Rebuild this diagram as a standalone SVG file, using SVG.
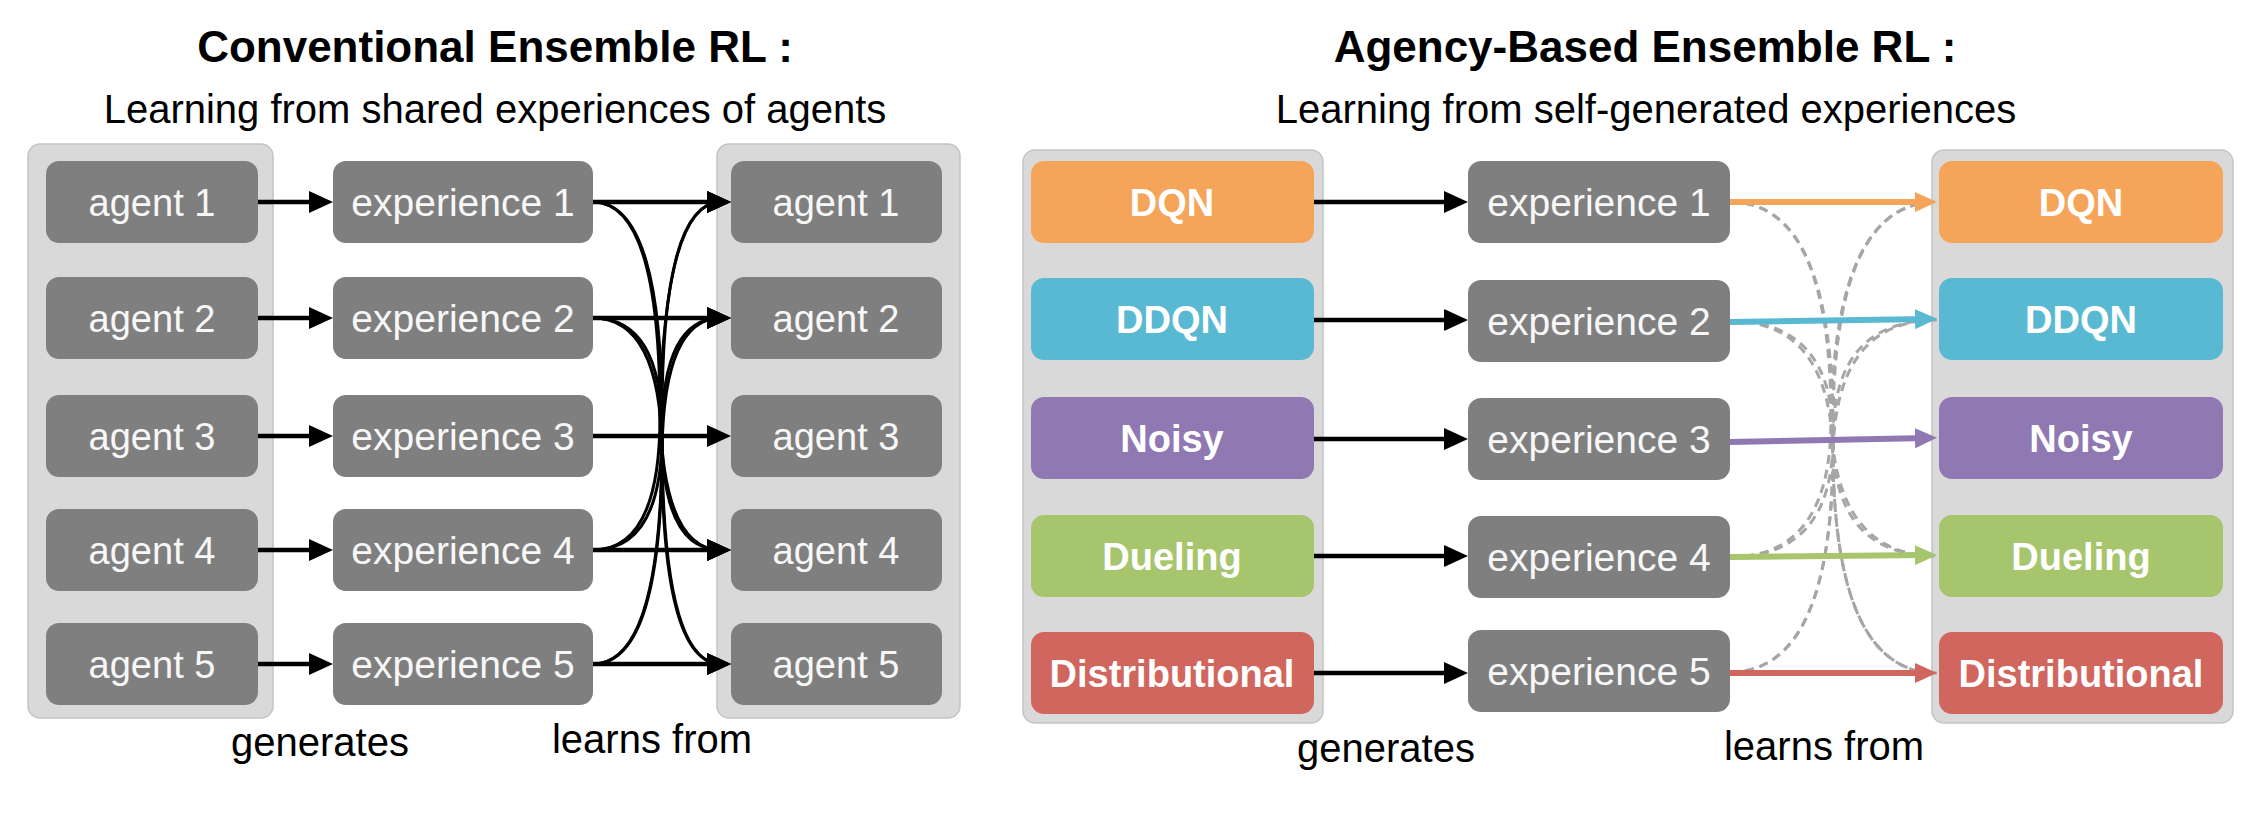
<svg xmlns="http://www.w3.org/2000/svg" width="2254" height="814" viewBox="0 0 2254 814">
<style>
  text{font-family:"Liberation Sans",Arial,sans-serif;text-anchor:middle}
  .title{font-size:44px;font-weight:bold;fill:#000}
  .sub{font-size:40px;fill:#000}
  .lbl{font-size:40px;fill:#000}
  .panel{fill:#D9D9D9;stroke:#C4C4C4;stroke-width:1.5}
  .gnode{fill:#7F7F7F}
  .ntxt{font-size:38px;fill:#F7F7F7}
  .etxt{font-size:39px;fill:#F7F7F7}
  .ctxt{font-size:38px;font-weight:bold;fill:#FFFFFF}
  .blk{stroke:#000;stroke-width:4.5;fill:none;marker-end:url(#ab)}
  .crv{stroke:#000;stroke-width:3;fill:none;marker-end:url(#ab)}
  .dsh{stroke:#A6A6A6;stroke-width:3;fill:none;stroke-dasharray:9 6}
  .col{stroke-width:6;fill:none}
</style>
<defs>
  <marker id="ab" markerUnits="userSpaceOnUse" viewBox="0 0 24 22" markerWidth="24" markerHeight="22" refX="14" refY="11" orient="auto"><path d="M0,0 L24,11 L0,22 z" fill="#000"/></marker>
  <marker id="aOr" markerUnits="userSpaceOnUse" viewBox="0 0 22 20" markerWidth="22" markerHeight="20" refX="12" refY="10" orient="auto"><path d="M0,0 L22,10 L0,20 z" fill="#F5A55A"/></marker>
  <marker id="aBl" markerUnits="userSpaceOnUse" viewBox="0 0 22 20" markerWidth="22" markerHeight="20" refX="12" refY="10" orient="auto"><path d="M0,0 L22,10 L0,20 z" fill="#5AB9D2"/></marker>
  <marker id="aPu" markerUnits="userSpaceOnUse" viewBox="0 0 22 20" markerWidth="22" markerHeight="20" refX="12" refY="10" orient="auto"><path d="M0,0 L22,10 L0,20 z" fill="#9079B3"/></marker>
  <marker id="aGr" markerUnits="userSpaceOnUse" viewBox="0 0 22 20" markerWidth="22" markerHeight="20" refX="12" refY="10" orient="auto"><path d="M0,0 L22,10 L0,20 z" fill="#A6C56D"/></marker>
  <marker id="aRd" markerUnits="userSpaceOnUse" viewBox="0 0 22 20" markerWidth="22" markerHeight="20" refX="12" refY="10" orient="auto"><path d="M0,0 L22,10 L0,20 z" fill="#D0665E"/></marker>
</defs>
<rect width="2254" height="814" fill="#FFFFFF"/>

<!-- Titles -->
<text class="title" x="495" y="62">Conventional Ensemble RL :</text>
<text class="sub" x="495" y="123">Learning from shared experiences of agents</text>
<text class="title" x="1645" y="62">Agency-Based Ensemble RL :</text>
<text class="sub" x="1646" y="123">Learning from self-generated experiences</text>

<!-- Panels -->
<g id="panel-left-agents"><rect class="panel" x="28" y="144" width="245" height="574" rx="12"/></g>
<g id="panel-left-learners"><rect class="panel" x="717" y="144" width="243" height="574" rx="12"/></g>
<g id="panel-right-agents"><rect class="panel" x="1023" y="150" width="300" height="573" rx="12"/></g>
<g id="panel-right-learners"><rect class="panel" x="1932" y="150" width="301" height="573" rx="12"/></g>

<!-- Left diagram nodes -->
<g id="agentA1"><rect class="gnode" x="46" y="161" width="212" height="82" rx="13"/><text class="ntxt" x="152" y="216">agent 1</text></g>
<g id="agentA2"><rect class="gnode" x="46" y="277" width="212" height="82" rx="13"/><text class="ntxt" x="152" y="332">agent 2</text></g>
<g id="agentA3"><rect class="gnode" x="46" y="395" width="212" height="82" rx="13"/><text class="ntxt" x="152" y="450">agent 3</text></g>
<g id="agentA4"><rect class="gnode" x="46" y="509" width="212" height="82" rx="13"/><text class="ntxt" x="152" y="564">agent 4</text></g>
<g id="agentA5"><rect class="gnode" x="46" y="623" width="212" height="82" rx="13"/><text class="ntxt" x="152" y="678">agent 5</text></g>

<g id="expL1"><rect class="gnode" x="333" y="161" width="260" height="82" rx="13"/><text class="etxt" x="463" y="216">experience 1</text></g>
<g id="expL2"><rect class="gnode" x="333" y="277" width="260" height="82" rx="13"/><text class="etxt" x="463" y="332">experience 2</text></g>
<g id="expL3"><rect class="gnode" x="333" y="395" width="260" height="82" rx="13"/><text class="etxt" x="463" y="450">experience 3</text></g>
<g id="expL4"><rect class="gnode" x="333" y="509" width="260" height="82" rx="13"/><text class="etxt" x="463" y="564">experience 4</text></g>
<g id="expL5"><rect class="gnode" x="333" y="623" width="260" height="82" rx="13"/><text class="etxt" x="463" y="678">experience 5</text></g>

<g id="agentB1"><rect class="gnode" x="731" y="161" width="211" height="82" rx="13"/><text class="ntxt" x="836" y="216">agent 1</text></g>
<g id="agentB2"><rect class="gnode" x="731" y="277" width="211" height="82" rx="13"/><text class="ntxt" x="836" y="332">agent 2</text></g>
<g id="agentB3"><rect class="gnode" x="731" y="395" width="211" height="82" rx="13"/><text class="ntxt" x="836" y="450">agent 3</text></g>
<g id="agentB4"><rect class="gnode" x="731" y="509" width="211" height="82" rx="13"/><text class="ntxt" x="836" y="564">agent 4</text></g>
<g id="agentB5"><rect class="gnode" x="731" y="623" width="211" height="82" rx="13"/><text class="ntxt" x="836" y="678">agent 5</text></g>

<!-- Right diagram nodes -->
<g id="algoA1"><rect x="1031" y="161" width="283" height="82" rx="13" fill="#F5A55A"/><text class="ctxt" x="1172" y="216">DQN</text></g>
<g id="algoA2"><rect x="1031" y="278" width="283" height="82" rx="13" fill="#5AB9D2"/><text class="ctxt" x="1172" y="333">DDQN</text></g>
<g id="algoA3"><rect x="1031" y="397" width="283" height="82" rx="13" fill="#9079B3"/><text class="ctxt" x="1172" y="452">Noisy</text></g>
<g id="algoA4"><rect x="1031" y="515" width="283" height="82" rx="13" fill="#A6C56D"/><text class="ctxt" x="1172" y="570">Dueling</text></g>
<g id="algoA5"><rect x="1031" y="632" width="283" height="82" rx="13" fill="#D0665E"/><text class="ctxt" x="1172" y="687">Distributional</text></g>

<g id="expR1"><rect class="gnode" x="1468" y="161" width="262" height="82" rx="13"/><text class="etxt" x="1599" y="216">experience 1</text></g>
<g id="expR2"><rect class="gnode" x="1468" y="280" width="262" height="82" rx="13"/><text class="etxt" x="1599" y="335">experience 2</text></g>
<g id="expR3"><rect class="gnode" x="1468" y="398" width="262" height="82" rx="13"/><text class="etxt" x="1599" y="453">experience 3</text></g>
<g id="expR4"><rect class="gnode" x="1468" y="516" width="262" height="82" rx="13"/><text class="etxt" x="1599" y="571">experience 4</text></g>
<g id="expR5"><rect class="gnode" x="1468" y="630" width="262" height="82" rx="13"/><text class="etxt" x="1599" y="685">experience 5</text></g>

<g id="algoB1"><rect x="1939" y="161" width="284" height="82" rx="13" fill="#F5A55A"/><text class="ctxt" x="2081" y="216">DQN</text></g>
<g id="algoB2"><rect x="1939" y="278" width="284" height="82" rx="13" fill="#5AB9D2"/><text class="ctxt" x="2081" y="333">DDQN</text></g>
<g id="algoB3"><rect x="1939" y="397" width="284" height="82" rx="13" fill="#9079B3"/><text class="ctxt" x="2081" y="452">Noisy</text></g>
<g id="algoB4"><rect x="1939" y="515" width="284" height="82" rx="13" fill="#A6C56D"/><text class="ctxt" x="2081" y="570">Dueling</text></g>
<g id="algoB5"><rect x="1939" y="632" width="284" height="82" rx="13" fill="#D0665E"/><text class="ctxt" x="2081" y="687">Distributional</text></g>

<!-- Connectors -->
<g id="connectors">
  <!-- left: agent -> experience -->
  <path class="blk" d="M258,202 H323"/>
  <path class="blk" d="M258,318 H323"/>
  <path class="blk" d="M258,436 H323"/>
  <path class="blk" d="M258,550 H323"/>
  <path class="blk" d="M258,664 H323"/>
  <!-- left: experience -> agent (straight) -->
  <path class="blk" d="M593,202 H721"/>
  <path class="blk" d="M593,318 H721"/>
  <path class="blk" d="M593,436 H721"/>
  <path class="blk" d="M593,550 H721"/>
  <path class="blk" d="M593,664 H721"/>
  <!-- left: shared curves -->
  <path class="crv" d="M593,202 Q660,202 660,416 Q664,550 721,550"/>
  <path class="crv" d="M593,202 Q664,202 662,433 Q660,664 721,664"/>
  <path class="crv" d="M593,318 Q662,318 662,433 Q662,550 721,550"/>
  <path class="crv" d="M593,318 Q660,318 662,450 Q664,664 721,664"/>
  <path class="crv" d="M593,550 Q660,550 660,416 Q664,202 721,202"/>
  <path class="crv" d="M593,550 Q662,550 662,433 Q662,318 721,318"/>
  <path class="crv" d="M593,664 Q664,664 662,433 Q660,202 721,202"/>
  <path class="crv" d="M593,664 Q660,664 662,450 Q664,318 721,318"/>

  <!-- right: algorithm -> experience -->
  <path class="blk" d="M1314,202 H1458"/>
  <path class="blk" d="M1314,320 H1458"/>
  <path class="blk" d="M1314,439 H1458"/>
  <path class="blk" d="M1314,556 H1458"/>
  <path class="blk" d="M1314,673 H1458"/>
  <!-- right: dashed cross curves -->
  <path class="dsh" d="M1730,202 Q1831,202 1831,420 Q1835,556 1937,556"/>
  <path class="dsh" d="M1730,202 Q1835,202 1833,438 Q1831,673 1937,673"/>
  <path class="dsh" d="M1730,321 Q1833,321 1833,438 Q1833,556 1937,556"/>
  <path class="dsh" d="M1730,321 Q1831,321 1833,456 Q1835,673 1937,673"/>
  <path class="dsh" d="M1730,557 Q1831,557 1831,420 Q1835,202 1937,202"/>
  <path class="dsh" d="M1730,557 Q1833,557 1833,438 Q1833,320 1937,320"/>
  <path class="dsh" d="M1730,672 Q1835,672 1833,438 Q1831,202 1937,202"/>
  <path class="dsh" d="M1730,672 Q1831,672 1833,455 Q1835,320 1937,320"/>
  <!-- right: self-generated experience -> own algorithm -->
  <path class="col" stroke="#F5A55A" marker-end="url(#aOr)" d="M1730,202 L1927,202"/>
  <path class="col" stroke="#5AB9D2" marker-end="url(#aBl)" d="M1730,322 L1927,319"/>
  <path class="col" stroke="#9079B3" marker-end="url(#aPu)" d="M1730,442 L1927,438"/>
  <path class="col" stroke="#A6C56D" marker-end="url(#aGr)" d="M1730,557 L1927,555"/>
  <path class="col" stroke="#D0665E" marker-end="url(#aRd)" d="M1730,673 L1927,673"/>
</g>

<!-- Bottom labels -->
<text class="lbl" x="320" y="756">generates</text>
<text class="lbl" x="652" y="753">learns from</text>
<text class="lbl" x="1386" y="762">generates</text>
<text class="lbl" x="1824" y="760">learns from</text>
</svg>
